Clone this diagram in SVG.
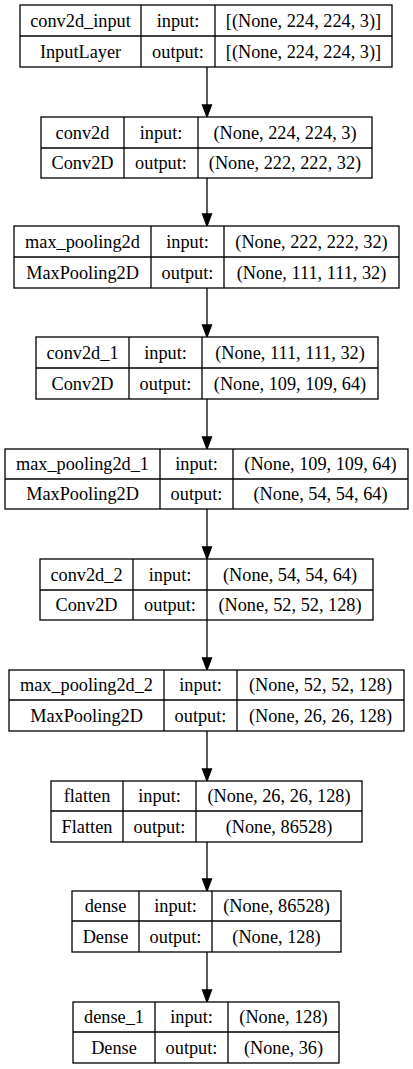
<svg xmlns="http://www.w3.org/2000/svg" width="413" height="1069" viewBox="0 0 413 1069">
<style>
rect.box{fill:#fff;stroke:#000;stroke-width:1.3}
line.div{stroke:#000;stroke-width:1.3}
text{font-family:"Liberation Serif","Times New Roman",serif;font-size:18.3px;fill:#000;text-anchor:middle}
.edge line{stroke:#000;stroke-width:1.3}
.edge polygon{fill:#000;stroke:#000;stroke-width:1.3}
</style>
<rect width="413" height="1069" fill="#fff"/>
<g class="edge" id="connectors">
<line x1="207" y1="67" x2="207" y2="105"/><polygon points="207,117 202.5,105 211.5,105"/>
<line x1="207" y1="178" x2="207" y2="214"/><polygon points="207,226 202.5,214 211.5,214"/>
<line x1="207" y1="288" x2="207" y2="325"/><polygon points="207,337 202.5,325 211.5,325"/>
<line x1="207" y1="399" x2="207" y2="437"/><polygon points="207,449 202.5,437 211.5,437"/>
<line x1="207" y1="509" x2="207" y2="547"/><polygon points="207,559 202.5,547 211.5,547"/>
<line x1="207" y1="620" x2="207" y2="658"/><polygon points="207,670 202.5,658 211.5,658"/>
<line x1="207" y1="731" x2="207" y2="769"/><polygon points="207,781 202.5,769 211.5,769"/>
<line x1="207" y1="842" x2="207" y2="879"/><polygon points="207,891 202.5,879 211.5,879"/>
<line x1="207" y1="952" x2="207" y2="990"/><polygon points="207,1002 202.5,990 211.5,990"/>
</g>
<g id="conv2d_input">
<rect class="box" x="20" y="5" width="372" height="62"/>
<line class="div" x1="20" y1="36" x2="392" y2="36"/>
<line class="div" x1="141" y1="5" x2="141" y2="67"/>
<line class="div" x1="215" y1="5" x2="215" y2="67"/>
<text x="80.5" y="26.5">conv2d_input</text><text x="80.5" y="57.5">InputLayer</text>
<text x="178" y="26.5">input:</text><text x="178" y="57.5">output:</text>
<text x="303.5" y="26.5">[(None, 224, 224, 3)]</text><text x="303.5" y="57.5">[(None, 224, 224, 3)]</text>
</g>
<g id="conv2d">
<rect class="box" x="41" y="117" width="331" height="61"/>
<line class="div" x1="41" y1="148" x2="372" y2="148"/>
<line class="div" x1="124" y1="117" x2="124" y2="178"/>
<line class="div" x1="198" y1="117" x2="198" y2="178"/>
<text x="82.5" y="138.5">conv2d</text><text x="82.5" y="169">Conv2D</text>
<text x="161" y="138.5">input:</text><text x="161" y="169">output:</text>
<text x="285" y="138.5">(None, 224, 224, 3)</text><text x="285" y="169">(None, 222, 222, 32)</text>
</g>
<g id="max_pooling2d">
<rect class="box" x="14" y="226" width="385" height="62"/>
<line class="div" x1="14" y1="257" x2="399" y2="257"/>
<line class="div" x1="151" y1="226" x2="151" y2="288"/>
<line class="div" x1="224" y1="226" x2="224" y2="288"/>
<text x="82.5" y="247.5">max_pooling2d</text><text x="82.5" y="278.5">MaxPooling2D</text>
<text x="187.5" y="247.5">input:</text><text x="187.5" y="278.5">output:</text>
<text x="311.5" y="247.5">(None, 222, 222, 32)</text><text x="311.5" y="278.5">(None, 111, 111, 32)</text>
</g>
<g id="conv2d_1">
<rect class="box" x="36" y="337" width="342" height="62"/>
<line class="div" x1="36" y1="368" x2="378" y2="368"/>
<line class="div" x1="129" y1="337" x2="129" y2="399"/>
<line class="div" x1="202" y1="337" x2="202" y2="399"/>
<text x="82.5" y="358.5">conv2d_1</text><text x="82.5" y="389.5">Conv2D</text>
<text x="165.5" y="358.5">input:</text><text x="165.5" y="389.5">output:</text>
<text x="290" y="358.5">(None, 111, 111, 32)</text><text x="290" y="389.5">(None, 109, 109, 64)</text>
</g>
<g id="max_pooling2d_1">
<rect class="box" x="5" y="449" width="403" height="60"/>
<line class="div" x1="5" y1="479" x2="408" y2="479"/>
<line class="div" x1="160" y1="449" x2="160" y2="509"/>
<line class="div" x1="233" y1="449" x2="233" y2="509"/>
<text x="82.5" y="470">max_pooling2d_1</text><text x="82.5" y="500">MaxPooling2D</text>
<text x="196.5" y="470">input:</text><text x="196.5" y="500">output:</text>
<text x="320.5" y="470">(None, 109, 109, 64)</text><text x="320.5" y="500">(None, 54, 54, 64)</text>
</g>
<g id="conv2d_2">
<rect class="box" x="40" y="559" width="333" height="61"/>
<line class="div" x1="40" y1="590" x2="373" y2="590"/>
<line class="div" x1="133" y1="559" x2="133" y2="620"/>
<line class="div" x1="207" y1="559" x2="207" y2="620"/>
<text x="86.5" y="580.5">conv2d_2</text><text x="86.5" y="611">Conv2D</text>
<text x="170" y="580.5">input:</text><text x="170" y="611">output:</text>
<text x="290" y="580.5">(None, 54, 54, 64)</text><text x="290" y="611">(None, 52, 52, 128)</text>
</g>
<g id="max_pooling2d_2">
<rect class="box" x="9" y="670" width="395" height="61"/>
<line class="div" x1="9" y1="700" x2="404" y2="700"/>
<line class="div" x1="164" y1="670" x2="164" y2="731"/>
<line class="div" x1="237" y1="670" x2="237" y2="731"/>
<text x="86.5" y="691">max_pooling2d_2</text><text x="86.5" y="721.5">MaxPooling2D</text>
<text x="200.5" y="691">input:</text><text x="200.5" y="721.5">output:</text>
<text x="320.5" y="691">(None, 52, 52, 128)</text><text x="320.5" y="721.5">(None, 26, 26, 128)</text>
</g>
<g id="flatten">
<rect class="box" x="51" y="781" width="311" height="61"/>
<line class="div" x1="51" y1="811" x2="362" y2="811"/>
<line class="div" x1="123" y1="781" x2="123" y2="842"/>
<line class="div" x1="196" y1="781" x2="196" y2="842"/>
<text x="87" y="802">flatten</text><text x="87" y="832.5">Flatten</text>
<text x="159.5" y="802">input:</text><text x="159.5" y="832.5">output:</text>
<text x="279" y="802">(None, 26, 26, 128)</text><text x="279" y="832.5">(None, 86528)</text>
</g>
<g id="dense">
<rect class="box" x="72" y="891" width="269" height="61"/>
<line class="div" x1="72" y1="921" x2="341" y2="921"/>
<line class="div" x1="139" y1="891" x2="139" y2="952"/>
<line class="div" x1="212" y1="891" x2="212" y2="952"/>
<text x="105.5" y="912">dense</text><text x="105.5" y="942.5">Dense</text>
<text x="175.5" y="912">input:</text><text x="175.5" y="942.5">output:</text>
<text x="276.5" y="912">(None, 86528)</text><text x="276.5" y="942.5">(None, 128)</text>
</g>
<g id="dense_1">
<rect class="box" x="73" y="1002" width="266" height="61"/>
<line class="div" x1="73" y1="1032" x2="339" y2="1032"/>
<line class="div" x1="155" y1="1002" x2="155" y2="1063"/>
<line class="div" x1="228" y1="1002" x2="228" y2="1063"/>
<text x="114" y="1023">dense_1</text><text x="114" y="1053.5">Dense</text>
<text x="191.5" y="1023">input:</text><text x="191.5" y="1053.5">output:</text>
<text x="283.5" y="1023">(None, 128)</text><text x="283.5" y="1053.5">(None, 36)</text>
</g>
</svg>
